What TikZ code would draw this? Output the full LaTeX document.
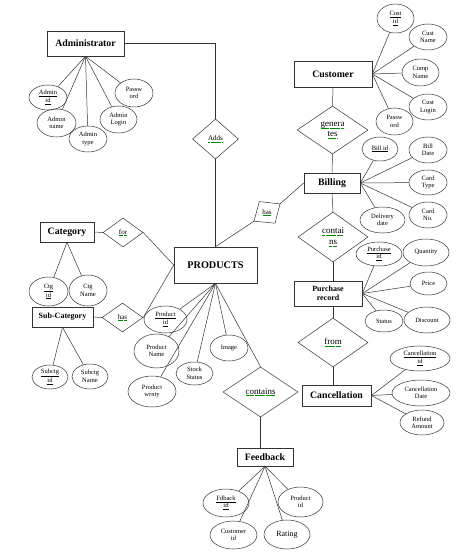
\documentclass[tikz,border=0pt]{standalone}
\usepackage{fontspec}
\setmainfont{Liberation Serif}
\usepackage{tikz}
\usetikzlibrary{shapes.geometric}
\newcommand{\spell}[1]{\sbox0{#1}\rlap{\textcolor{green!55!black}{\raisebox{-1.8pt}{\hbox to \wd0{\leaders\hbox to 1.1pt{\hss\rule{0.6pt}{0.45pt}\hss}\hfill}}}}\usebox0}

\begin{document}
\begin{tikzpicture}[x=1pt, y=-1pt,
          entity/.style={rectangle, draw=black!80, line width=0.6pt, inner sep=0pt, align=center, font=\fontsize{9.8}{11}\selectfont\bfseries},
          attr/.style={ellipse, draw=black!80, line width=0.5pt, inner sep=0pt, minimum width=38, minimum height=26, align=center, font=\fontsize{6.5}{7.5}\selectfont},
          rel/.style={diamond, draw=black!80, line width=0.5pt, inner sep=0pt, align=center, font=\fontsize{9}{10.5}\selectfont},
          relsmall/.style={rel, font=\fontsize{7}{8}\selectfont},
          conn/.style={black!80, line width=0.5pt}
        ]
          \useasboundingbox (0,0) rectangle (474,556);

          % Administrator
          \node[entity, minimum width=77, minimum height=25] (admin) at (85.5,43.5) {Administrator};
          \node[attr, minimum height=25] (adminid) at (48,97.5) {\underline{Admin}\\\underline{id}};
          \node[attr, minimum width=39, minimum height=28] (adminname) at (56.5,123) {Admin\\name};
          \node[attr] (admintype) at (88,139) {Admin\\type};
          \node[attr, minimum width=37, minimum height=27] (adminlogin) at (118.5,119.5) {Admin\\Login};
          \node[attr, minimum height=28] (adminpass) at (134,93) {Passw\\ord};
          \node[relsmall, minimum width=46, minimum height=40] (adds) at (215.5,139) {\spell{Adds}};

          % Products
          \node[entity, minimum width=83, minimum height=36, font=\fontsize{10.2}{11}\selectfont\bfseries] (prod) at (215.5,265) {PRODUCTS};
          \node[attr, minimum width=43, minimum height=27] (prodid) at (165.5,319.5) {\underline{Product}\\\underline{id}};
          \node[attr, minimum width=45, minimum height=34] (prodname) at (156.5,351) {Product\\Name};
          \node[attr, minimum width=48, minimum height=31] (prodwar) at (152,391.5) {Product\\wrnty};
          \node[attr, minimum width=37, minimum height=23] (stock) at (194.5,373.5) {Stock\\Status};
          \node[attr] (image) at (229,348) {Image};

          % Category and Sub-Category
          \node[entity, minimum width=54, minimum height=20] (cat) at (67,232) {Category};
          \node[relsmall, minimum width=40, minimum height=29] (for) at (123,232.5) {\spell{for}};
          \node[attr, minimum width=39, minimum height=29] (ctgid) at (48.5,291.5) {\underline{Ctg}\\\underline{id}};
          \node[attr, minimum width=38, minimum height=31] (ctgname) at (88,290.5) {Ctg\\Name};
          \node[entity, minimum width=61, minimum height=20, font=\fontsize{8}{9.5}\selectfont\bfseries] (subcat) at (62.5,317) {Sub-Category};
          \node[relsmall, minimum width=41, minimum height=29] (hassub) at (122.5,317.5) {\spell{has}};
          \node[attr, minimum width=36, minimum height=24] (subid) at (50,377) {\underline{Subctg}\\\underline{id}};
          \node[attr, minimum width=36, minimum height=25] (subname) at (90,376.5) {Subctg\\Name};

          % Feedback
          \node[rel, minimum width=75, minimum height=50] (contfb) at (260.5,392) {\spell{contains}};
          \node[entity, minimum width=56, minimum height=18] (feed) at (265,457) {Feedback};
          \node[attr, minimum width=46, minimum height=28] (fbid) at (226,503) {\underline{Fdback}\\\underline{id}};
          \node[attr, minimum width=45, minimum height=30] (fbprod) at (300.5,502) {Product\\id};
          \node[attr, minimum width=47, minimum height=28] (fbcust) at (233.5,535) {Customer\\id};
          \node[attr, minimum width=46, minimum height=29, font=\fontsize{8}{9}\selectfont] (rating) at (287,534.5) {Rating};

          % Customer
          \node[entity, minimum width=78, minimum height=26] (cust) at (333,74) {Customer};
          \node[attr, minimum width=37, minimum height=29] (custid) at (395.5,18.5) {\underline{Cust}\\\underline{id}};
          \node[attr] (custname) at (428,37) {Cust\\Name};
          \node[attr, minimum width=37, minimum height=27] (comp) at (420.5,72.5) {Comp\\Name};
          \node[attr] (custlogin) at (428,107) {Cust\\Login};
          \node[attr, minimum width=37, minimum height=27] (custpass) at (394.5,121.5) {Passw\\ord};
          \node[rel, minimum width=71, minimum height=48] (gen) at (332.5,130) {\spell{genera}\\\spell{tes}};

          % Billing
          \node[entity, minimum width=56, minimum height=20] (bill) at (332,183) {Billing};
          \node[attr, minimum width=36, minimum height=24] (billid) at (380,149) {\underline{Bill id}};
          \node[attr] (billdate) at (428,150) {Bill\\Date};
          \node[attr, minimum height=25] (cardtype) at (428,182.5) {Card\\Type};
          \node[attr] (cardno) at (428,215) {Card\\No.};
          \node[attr, minimum width=45] (deliv) at (382.5,220) {Delivery\\date};
          \node[rel, minimum width=70, minimum height=50] (contpr) at (333,237) {\spell{contai}\\\spell{ns}};

          % Billing has Products
          \node[inner sep=0pt, font=\fontsize{7}{8}\selectfont] (hasbill) at (267,212.5) {\spell{has}};
          \coordinate (hastl) at ([shift={(-7.7,-10.9)}]hasbill.center);
          \coordinate (hastr) at ([shift={(13,-8.6)}]hasbill.center);
          \coordinate (hasbr) at ([shift={(8,10.7)}]hasbill.center);
          \coordinate (hasbl) at ([shift={(-13,8.7)}]hasbill.center);

          % Purchase record
          \node[entity, minimum width=68, minimum height=25, font=\fontsize{8}{9.5}\selectfont\bfseries] (purch) at (328,293.5) {Purchase\\record};
          \node[attr, minimum width=46, minimum height=24] (purchid) at (379,254) {\underline{Purchase}\\\underline{id}};
          \node[attr, minimum width=46, minimum height=27] (qty) at (426,252.5) {Quantity};
          \node[attr, minimum width=37, minimum height=23] (price) at (428.5,283.5) {Price};
          \node[attr, minimum width=46] (disc) at (427,320) {Discount};
          \node[attr, minimum height=22] (status) at (384,321) {Status};
          \node[rel, minimum width=70, minimum height=49] (fromrel) at (333,342.5) {\spell{from}};

          % Cancellation
          \node[entity, minimum width=69, minimum height=21] (cancel) at (336.5,395.5) {Cancellation};
          \node[attr, minimum width=60, minimum height=25] (cancid) at (420,358.5) {\underline{Cancellation}\\\underline{id}};
          \node[attr, minimum width=58] (cancdate) at (421,393) {Cancellation\\Date};
          \node[attr, minimum width=44, minimum height=25] (refund) at (422,422.5) {Refund\\Amount};

          % Attribute connections
          \foreach \a in {adminid,adminname,admintype,adminlogin,adminpass}
            \draw[conn] (admin.south) -- (\a);
          \foreach \a in {prodid,prodname,prodwar,stock,image}
            \draw[conn] (prod.south) -- (\a);
          \foreach \a in {ctgid,ctgname}
            \draw[conn] (cat.south) -- (\a);
          \foreach \a in {subid,subname}
            \draw[conn] (subcat.south) -- (\a);
          \foreach \a in {fbid,fbprod,fbcust,rating}
            \draw[conn] (feed.south) -- (\a);
          \foreach \a in {custid,custname,comp,custlogin,custpass}
            \draw[conn] (cust.east) -- (\a);
          \foreach \a in {billid,billdate,cardtype,cardno,deliv}
            \draw[conn] (bill.east) -- (\a);
          \foreach \a in {purchid,qty,price,disc,status}
            \draw[conn] (purch.east) -- (\a);
          \foreach \a in {cancid,cancdate,refund}
            \draw[conn] (cancel.east) -- (\a);

          % Relationship connections
          \draw[conn] (admin.east) -| (adds.north);
          \draw[conn] (adds.south) -- (prod.north);
          \draw[conn] (cat.east) -- (for.west);
          \draw[conn] (for.east) -- (prod.west);
          \draw[conn] (subcat.east) -- (hassub.west);
          \draw[conn] (hassub.east) -- (prod.west);
          \draw[conn] (prod.south) -- (contfb.north);
          \draw[conn] (contfb.south) -- (contfb.south |- feed.north);
          \draw[conn] (cust.south) -- (gen.north);
          \draw[conn] (gen.south) -- (bill.north);
          \draw[conn] (hastl) -- (hastr) -- (hasbr) -- (hasbl) -- cycle;
          \draw[conn] (prod.north) -- (hasbl);
          \draw[conn] (hastr) -- (bill.west);
          \draw[conn] (bill.south) -- (contpr.north);
          \draw[conn] (contpr.south) -- (contpr.south |- purch.north);
          \draw[conn] (fromrel.north |- purch.south) -- (fromrel.north);
          \draw[conn] (fromrel.south) -- (fromrel.south |- cancel.north);
        \end{tikzpicture}
\end{document}
